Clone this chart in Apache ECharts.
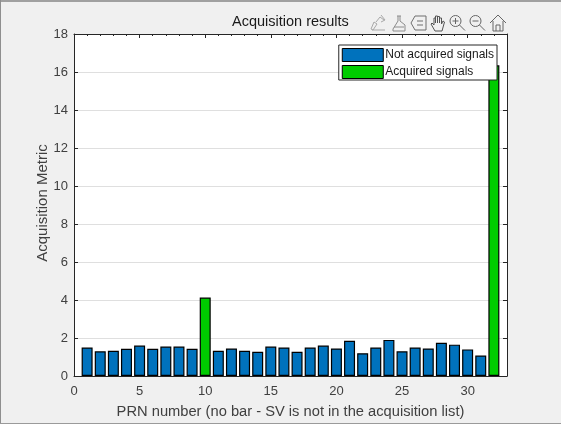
<!DOCTYPE html>
<html>
<head>
<meta charset="utf-8">
<script src="https://cdn.jsdelivr.net/npm/echarts@6/dist/echarts.min.js"></script>
<style>
html,body{margin:0;padding:0;background:#f0f0f0;}
#main{width:561px;height:424px;}
</style>
</head>
<body>
<div id="main"></div>
<script>
var notAcquiredPrn = [1,2,3,4,5,6,7,8,9,11,12,13,14,15,16,17,18,19,20,21,22,23,24,25,26,27,28,29,30,31];
var notAcquiredValues = [1.5,1.3,1.33,1.43,1.6,1.43,1.55,1.55,1.43,1.33,1.45,1.33,1.28,1.55,1.5,1.28,1.5,1.6,1.45,1.85,1.2,1.5,1.9,1.3,1.5,1.45,1.75,1.65,1.4,1.08];
var acquiredPrn = [10,32];
var acquiredValues = [4.13,16.35];
var seriesNames = ['Not acquired signals','Acquired signals'];

var font = '"Liberation Sans", Arial, sans-serif';
var axisColor = '#262626';
var labelColor = '#404040';

function pairs(xs, ys) {
  return xs.map(function (x, i) { return [x, ys[i]]; });
}

// toolbar icons, outlines only
function stroke(x, y, pts, color) {
  return {
    type: 'polyline', x: x, y: y,
    shape: { points: pts },
    style: { fill: 'none', stroke: color, lineWidth: 1 },
    silent: true
  };
}
function lens(x, y, color) {
  return {
    type: 'circle', x: x, y: y,
    shape: { cx: 5.5, cy: 6, r: 5.5 },
    style: { fill: 'none', stroke: color, lineWidth: 1 },
    silent: true
  };
}
var icons = [
  // brush
  stroke(370, 15, [[1,14],[4,7],[7,9],[3,15],[1,14]], '#a8a8a8'),
  stroke(370, 15, [[6,7],[10,2],[14,5]], '#a8a8a8'),
  stroke(370, 15, [[11,0],[15,5],[11,7]], '#a8a8a8'),
  stroke(370, 15, [[2,15],[15,15]], '#a8a8a8'),
  // eraser
  stroke(392, 15, [[5,1],[9,1]], '#8c8c8c'),
  stroke(392, 15, [[6,1],[6,6],[1,14],[1,16],[13,16],[13,10],[8,6],[8,1]], '#8c8c8c'),
  stroke(392, 15, [[2,12],[12,12]], '#8c8c8c'),
  // data cursor box
  stroke(411, 16, [[4,0],[15,0],[15,14],[4,14],[0,7],[4,0]], '#6f6f6f'),
  stroke(411, 16, [[6,5],[12,5]], '#6f6f6f'),
  stroke(411, 16, [[6,9],[12,9]], '#6f6f6f'),
  // hand
  stroke(430, 15, [[5,16],[1,9],[2,8],[4,10],[4,3],[5.5,3],[5.5,8],[5.5,1],[7.5,1],[7.5,8],[7.5,1.5],[9.5,1.5],[9.5,8],[9.5,3],[11.5,3],[11.5,9],[13,6],[14.5,7],[12,16],[5,16]], '#555555'),
  // zoom in
  lens(450, 15, '#666666'),
  stroke(450, 15, [[9.5,10],[15,15.5]], '#666666'),
  stroke(450, 15, [[5.5,3],[5.5,9]], '#666666'),
  stroke(450, 15, [[2.5,6],[8.5,6]], '#666666'),
  // zoom out
  lens(470, 15, '#666666'),
  stroke(470, 15, [[9.5,10],[15,15.5]], '#666666'),
  stroke(470, 15, [[2.5,6],[8.5,6]], '#666666'),
  // home
  stroke(490, 15, [[0,8],[8,0],[16,8]], '#666666'),
  stroke(490, 15, [[3,6],[3,16],[13,16],[13,6]], '#666666'),
  stroke(490, 15, [[6,16],[6,10],[10,10],[10,16]], '#666666')
];
// window edges visible in the screenshot
var edges = [
  { type: 'rect', shape: { x: 0, y: 0, width: 561, height: 2 }, style: { fill: '#a0a0a0' }, silent: true },
  { type: 'rect', shape: { x: 0, y: 0, width: 1, height: 424 }, style: { fill: '#8f8f8f' }, silent: true },
  { type: 'rect', shape: { x: 0, y: 423, width: 561, height: 1 }, style: { fill: '#9a9a9a' }, silent: true }
];

var chart = echarts.init(document.getElementById('main'), null, { renderer: 'canvas' });

var tickStyle = { color: axisColor, width: 1 };

chart.setOption({
  animation: false,
  backgroundColor: '#f0f0f0',
  title: {
    text: 'Acquisition results',
    left: 232, top: 14,
    padding: 0,
    textStyle: { fontFamily: font, fontSize: 14.5, fontWeight: 'normal', color: '#1a1a1a' }
  },
  legend: {
    orient: 'vertical',
    right: 64, top: 45,
    padding: [3, 3, 1, 3],
    itemGap: 3,
    itemWidth: 41, itemHeight: 13,
    backgroundColor: '#fff',
    borderColor: axisColor, borderWidth: 1, borderRadius: 0,
    data: seriesNames.map(function (n) { return { name: n, icon: 'rect' }; }),
    itemStyle: { borderWidth: 1, borderColor: '#000' },
    textStyle: { fontFamily: font, fontSize: 12, color: '#1a1a1a', padding: [0, 0, 0, -3] },
    selectedMode: false,
    z: 20
  },
  grid: { left: 74, right: 54, top: 34, bottom: 47.5, backgroundColor: '#fff', show: true, borderWidth: 0 },
  xAxis: [{
    type: 'value', min: 0, max: 33, interval: 5,
    name: 'PRN number (no bar - SV is not in the acquisition list)',
    nameLocation: 'middle', nameGap: 28,
    nameTextStyle: { fontFamily: font, fontSize: 14.7, color: labelColor },
    axisLine: { show: true, onZero: false, lineStyle: { color: axisColor, width: 1 } },
    axisTick: { show: true, inside: true, length: 4, lineStyle: tickStyle },
    minorTick: { show: true, splitNumber: 5, length: 2, lineStyle: tickStyle },
    axisLabel: { fontFamily: font, fontSize: 13, color: labelColor, margin: 9, showMaxLabel: false },
    splitLine: { show: false }
  }, {
    type: 'value', min: 0, max: 33, interval: 5, position: 'top',
    axisLine: { show: true, onZero: false, lineStyle: { color: axisColor, width: 1 } },
    axisTick: { show: true, inside: true, length: 4, lineStyle: tickStyle },
    minorTick: { show: true, splitNumber: 5, length: 2, lineStyle: tickStyle },
    axisLabel: { show: false },
    splitLine: { show: false }
  }],
  yAxis: [{
    type: 'value', min: 0, max: 18, interval: 2,
    name: 'Acquisition Metric',
    nameLocation: 'middle', nameGap: 24, nameRotate: 90, nameMoveOverlap: false,
    nameTextStyle: { fontFamily: font, fontSize: 15, color: labelColor, padding: [0, 0, 0, 4] },
    axisLine: { show: true, onZero: false, lineStyle: { color: axisColor, width: 1 } },
    axisTick: { show: true, inside: true, length: 4, lineStyle: tickStyle },
    axisLabel: { fontFamily: font, fontSize: 13, color: labelColor, margin: 6 },
    splitLine: { show: true, lineStyle: { color: '#dfdfdf', width: 1 } }
  }, {
    type: 'value', min: 0, max: 18, interval: 2, position: 'right',
    axisLine: { show: true, onZero: false, lineStyle: { color: axisColor, width: 1 } },
    axisTick: { show: true, inside: true, length: 4, lineStyle: tickStyle },
    axisLabel: { show: false },
    splitLine: { show: false }
  }],
  series: [{
    name: seriesNames[0],
    type: 'bar',
    barWidth: 11, barGap: '-100%',
    data: pairs(notAcquiredPrn, notAcquiredValues),
    itemStyle: { color: '#0072bd', borderColor: '#000', borderWidth: 1.2, borderRadius: 0 }
  }, {
    name: seriesNames[1],
    type: 'bar',
    barWidth: 11, barGap: '-100%',
    data: pairs(acquiredPrn, acquiredValues),
    itemStyle: { color: '#00cc00', borderColor: '#000', borderWidth: 1.2, borderRadius: 0 }
  }],
  graphic: icons.concat(edges)
});
</script>
</body>
</html>
